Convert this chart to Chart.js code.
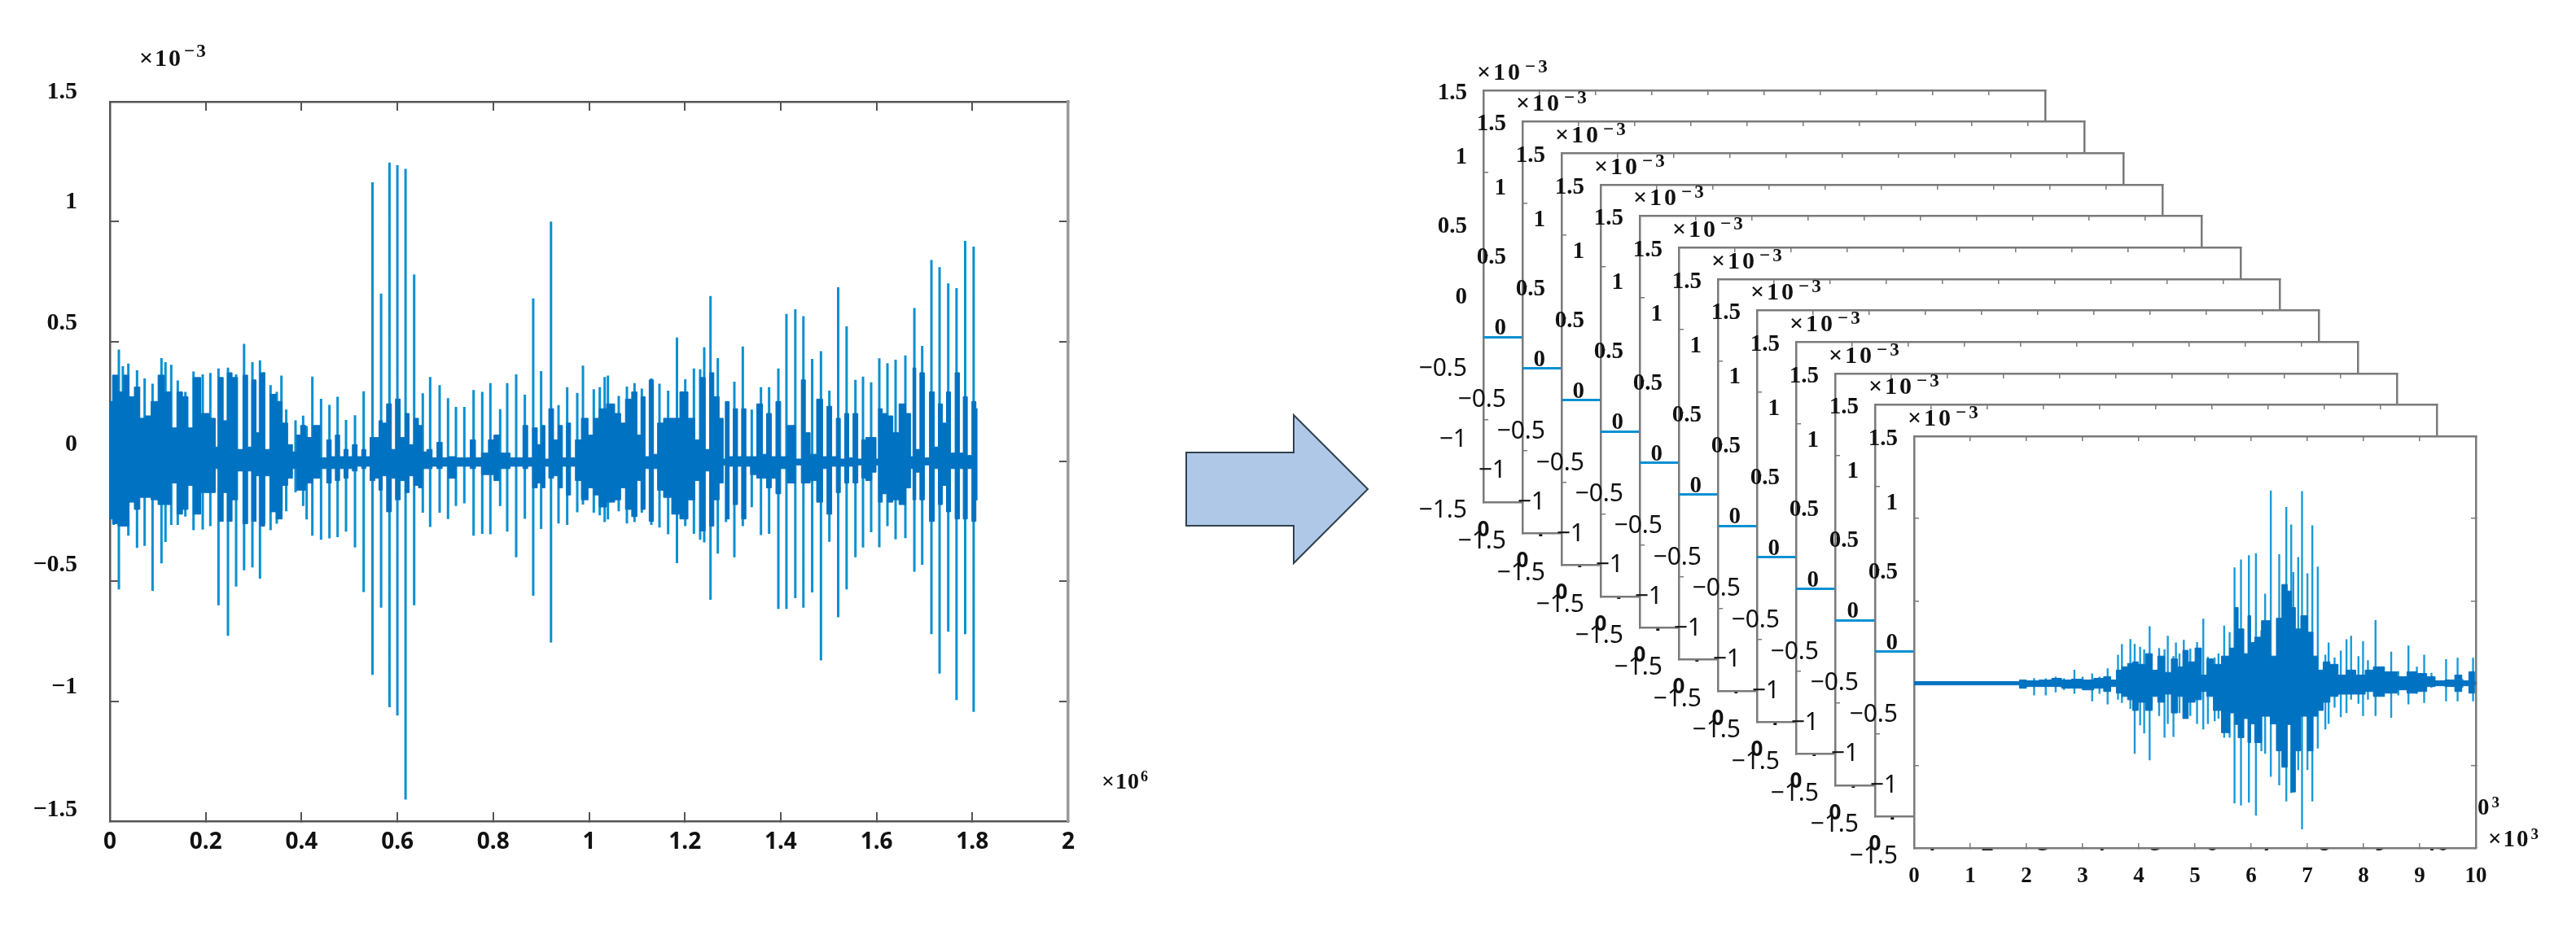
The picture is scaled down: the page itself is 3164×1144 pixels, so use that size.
<!DOCTYPE html>
<html><head><meta charset="utf-8">
<style>html,body{margin:0;padding:0;background:#fff;width:3164px;height:1144px;overflow:hidden}
canvas{position:absolute;display:block}svg{position:absolute;left:0;top:0}</style>
<script src="https://cdn.jsdelivr.net/npm/chart.js@4"></script>
</head><body>
<svg width="3164" height="1144"><polygon points="1457,556 1589,556 1589,510 1680,601 1589,692 1589,646 1457,646" fill="#b0c8e8" stroke="#30404f" stroke-width="2"/></svg>
<script>
// ---- tick labels
const leftXLabels=['0','0.2','0.4','0.6','0.8','1','1.2','1.4','1.6','1.8','2'];
const frameXLabels=['0','1','2','3','4','5','6','7','8','9','10'];
const yLabels=['−1.5','−1','−0.5','0','0.5','1','1.5'];
// ---- long signal (x in 1e6, y in 1e-3): dense core envelope
const leftCoreX=[0,.011,.023,.034,.045,.057,.068,.079,.093,.108,.119,.136,.144,.159,.167,.181,.198,.218,.222,.232,.241,.249,.261,.272,.283,.292,.3,.31,.317,.329,.34,.354,.365,.377,.385,.394,.402,.416,.43,.447,
.458,.466,.475,.484,.493,.501,.511,.521,.53,.538,.548,.558,.565,.572,.583,.592,.6,.612,.62,.629,.64,.648,.655,.668,.677,.688,.699,.714,.731,.745,.759,.767,.784,.796,.807,.818,.829,.841,.858,.866,.878,.886,.898,
.904,.912,.92,.932,.94,.949,.957,.966,.977,.991,1.005,1.014,1.028,1.045,1.062,1.07,1.082,1.096,1.104,1.113,1.121,1.13,1.139,1.147,1.164,1.181,1.198,1.215,1.226,1.237,1.248,1.255,1.266,1.277,1.283,1.288,1.297,1.305,1.315,1.322,1.333,1.341,
1.359,1.365,1.376,1.385,1.395,1.405,1.422,1.439,1.447,1.456,1.467,1.483,1.492,1.501,1.512,1.52,1.529,1.538,1.546,1.556,1.566,1.572,1.583,1.597,1.601,1.607,1.617,1.628,1.64,1.654,1.668,1.674,1.678,1.686,1.695,1.705,1.716,1.725,1.733,1.742,1.75,1.759,1.769,1.777,1.785,1.794,1.804,1.811];
const leftCoreUp=[.25,.36,.29,.36,.27,.31,.18,.19,.25,.36,.29,.14,.29,.27,.14,.35,.2,.18,.06,.35,.17,.37,.35,.05,.36,.06,.34,.12,.37,.05,.28,.25,.16,.07,.04,.11,.15,.1,.15,.015,
.09,.02,.11,.02,.05,.02,.07,.02,.05,.02,.1,.1,.17,.16,.24,.05,.26,.1,.2,.07,.18,.15,.04,.05,.015,.08,.015,.02,.015,.015,.09,.015,.035,.09,.11,.035,.035,.015,.015,.15,.015,.14,.07,
.15,.01,.22,.09,.15,.015,.16,.015,.09,.18,.11,.18,.22,.24,.2,.16,.26,.29,.11,.27,.02,.34,.03,.16,.18,.18,.29,.18,.09,.35,.05,.37,.27,.18,.01,.25,.02,.22,.02,.22,.02,.02,
.24,.03,.2,.02,.25,.02,.15,.01,.34,.12,.03,.26,.02,.23,.02,.18,.01,.2,.015,.2,.01,.09,.1,.1,.01,.22,.2,.19,.12,.24,.2,.02,.39,.05,.37,.015,.29,.06,.24,.16,.29,.035,.37,.035,.27,.025,.25,.22];
const leftCoreDown=[-.24,-.26,-.27,-.27,-.17,-.2,-.15,-.15,-.16,-.18,-.18,-.09,-.22,-.2,-.1,-.22,-.13,-.13,-.03,-.25,-.13,-.25,-.16,-.04,-.26,-.04,-.25,-.06,-.27,-.06,-.21,-.24,-.1,-.07,-.03,-.12,-.12,-.09,-.07,-.03,
-.09,-.03,-.08,-.03,-.07,-.03,-.04,-.02,-.03,-.02,-.08,-.07,-.12,-.06,-.21,-.07,-.16,-.08,-.13,-.06,-.1,-.11,-.03,-.03,-.02,-.03,-.02,-.07,-.02,-.02,-.03,-.02,-.055,-.055,-.08,-.03,-.03,-.02,-.02,-.03,-.02,-.11,-.09,
-.11,-.02,-.07,-.06,-.11,-.02,-.14,-.02,-.08,-.16,-.11,-.14,-.19,-.17,-.16,-.11,-.2,-.23,-.08,-.2,-.03,-.25,-.03,-.12,-.15,-.22,-.24,-.16,-.08,-.29,-.04,-.27,-.16,-.09,-.015,-.24,-.02,-.18,-.02,-.24,-.02,-.055,
-.07,-.07,-.11,-.07,-.135,-.03,-.09,-.015,-.09,-.09,-.08,-.17,-.03,-.22,-.02,-.13,-.02,-.09,-.02,-.09,-.015,-.07,-.08,-.045,-.015,-.17,-.135,-.17,-.16,-.18,-.11,-.03,-.16,-.045,-.16,-.015,-.25,-.03,-.18,-.1,-.21,-.03,-.24,-.03,-.24,-.03,-.25,-.16];
// ---- long signal: individual spikes
const leftSpikeX=[.008,.0187,.027,.0385,.0566,.0725,.089,.1076,.116,.128,.1416,.1575,.1745,.1937,.2096,.2266,.2464,.2634,.28,.2974,.3132,.3217,.3353,.3483,.358,.368,.3874,.4033,.4106,.4225,.4407,.4582,.4752,.4928,.5115,.5296,.548,.566,.5835,.6,.617,.635,.653,.6684,.6882,.7057,.7222,.7397,.759,.7771,.7941,.8145,.8292,.8479,.866,.8835,.9,.9206,.9363,.9544,.9754,.9873,1.0099,1.0224,1.0326,1.0394,1.062,1.079,1.0949,1.1102,1.13,1.147,1.1651,1.1835,1.2008,1.2189,1.2319,1.2404,1.2535,1.2688,1.2858,1.3033,1.3209,1.3396,1.3588,1.3758,1.3951,1.412,1.4305,1.4474,1.4657,1.484,1.5016,1.52,1.5376,1.556,1.5718,1.5888,1.6058,1.6228,1.6398,1.6602,1.679,1.6953,1.7146,1.7316,1.7497,1.767,1.785,1.8027];
const leftSpikeUp=[.346,.467,.397,.408,.38,.346,.324,.431,.414,.403,.338,.29,.375,.363,.369,.388,.391,.363,.49,.414,.422,.372,.318,.29,.358,.216,.171,.191,.148,.354,.261,.236,.27,.173,.193,.293,1.164,.7,1.246,1.235,1.22,.78,.284,.352,.318,.264,.227,.227,.298,.29,.327,.218,.327,.363,.278,.68,.377,1.0,.235,.31,.286,.4,.301,.31,.352,.358,.273,.312,.327,.304,.346,.324,.295,.517,.343,.388,.384,.476,.69,.431,.25,.333,.479,.216,.31,.31,.388,.615,.635,.606,.428,.46,.295,.726,.563,.34,.354,.33,.43,.41,.424,.442,.64,.482,.84,.81,.742,.723,.92,.896];
const leftSpikeDown=[-.265,-.534,-.27,-.31,-.361,-.352,-.54,-.425,-.336,-.265,-.265,-.23,-.287,-.284,-.27,-.6,-.727,-.522,-.454,-.442,-.489,-.26,-.287,-.26,-.208,-.208,-.129,-.186,-.242,-.31,-.327,-.321,-.316,-.293,-.359,-.545,-.89,-.61,-1.025,-1.06,-1.41,-.6,-.214,-.273,-.214,-.24,-.186,-.175,-.31,-.302,-.304,-.186,-.293,-.4,-.239,-.56,-.282,-.755,-.259,-.265,-.212,-.18,-.214,-.225,-.253,-.242,-.208,-.259,-.253,-.214,-.265,-.276,-.304,-.424,-.27,-.302,-.327,-.338,-.577,-.384,-.253,-.4,-.27,-.191,-.307,-.302,-.615,-.615,-.57,-.61,-.546,-.83,-.335,-.65,-.534,-.4,-.359,-.295,-.358,-.27,-.325,-.32,-.46,-.431,-.72,-.885,-.71,-.995,-.72,-1.044];
// ---- windowed segment (x in 1e3, y in 1e-3): core envelope
const segCoreX=[0,1.85,1.9,2.1,2.35,2.55,2.7,2.9,3.1,3.3,3.45,3.55,3.65,3.75,3.85,3.93,4.048,4.193,4.289,4.386,4.531,4.627,4.748,4.82,4.941,5.062,5.168,5.255,5.4,5.544,5.689,5.728,5.81,5.93,5.955,6.027,6.1,6.268,6.413,6.486,6.606,6.679,6.751,6.824,6.944,7.065,7.137,7.234,7.33,7.475,7.62,7.765,7.958,8.103,8.248,8.5,8.7,8.85,9.05,9.2,9.35,9.55,9.7,9.8,9.95,10];
const segCoreUp=[.01,.01,.02,.015,.02,.03,.02,.025,.02,.03,.04,.02,.08,.1,.12,.13,.115,.18,.08,.165,.066,.148,.1,.2,.13,.214,.05,.148,.115,.165,.214,.46,.33,.18,.41,.247,.28,.38,.165,.395,.6,.56,.46,.33,.41,.31,.165,.08,.13,.115,.05,.08,.05,.08,.1,.07,.04,.07,.06,.04,.015,.02,.05,.015,.07,.01];
const segCoreDown=[-.01,-.01,-.03,-.02,-.02,-.02,-.03,-.03,-.04,-.03,-.05,-.02,-.06,-.08,-.1,-.165,-.115,-.165,-.08,-.115,-.066,-.18,-.08,-.214,-.115,-.1,-.05,-.08,-.165,-.3,-.18,-.25,-.33,-.214,-.36,-.247,-.36,-.2,-.247,-.41,-.51,-.25,-.66,-.41,-.2,-.41,-.2,-.165,-.115,-.08,-.066,-.066,-.066,-.05,-.08,-.06,-.04,-.06,-.05,-.02,-.015,-.02,-.05,-.015,-.06,-.01];
// ---- windowed segment: individual spikes
const segSpikeX=[1.893,2.137,2.344,2.52,2.67,2.854,3.0,3.17,3.3,3.445,3.63,3.7,3.85,3.927,4.024,4.096,4.193,4.362,4.458,4.516,4.617,4.661,4.724,4.801,4.917,5.037,5.148,5.23,5.351,5.419,5.52,5.617,5.704,5.819,5.96,6.085,6.182,6.249,6.35,6.5,6.626,6.713,6.751,6.838,6.906,7.002,7.089,7.186,7.321,7.379,7.485,7.596,7.697,7.779,7.91,7.992,8.079,8.214,8.493,8.62,8.8,8.95,9.08,9.21,9.47,9.675,9.76,9.95];
const segSpikeUp=[.02,.031,.03,.04,.03,.082,.04,.06,.04,.091,.174,.238,.269,.239,.222,.206,.346,.214,.206,.288,.165,.247,.181,.264,.21,.25,.392,.161,.156,.181,.35,.31,.703,.752,.777,.79,.321,.544,1.17,.783,1.07,.964,.675,.766,1.166,.667,.959,.708,.173,.247,.156,.198,.267,.288,.165,.255,.14,.384,.192,.073,.229,.1,.174,.064,.146,.155,.027,.155];
const segSpikeDown=[-.03,-.073,-.073,-.055,-.04,-.064,-.04,-.11,-.064,-.128,-.1,-.119,-.155,-.428,-.255,-.305,-.468,-.198,-.33,-.247,-.326,-.181,-.181,-.214,-.198,-.247,-.28,-.247,-.231,-.214,-.33,-.33,-.73,-.742,-.725,-.804,-.412,-.428,-.568,-.62,-.717,-.667,-.626,-.527,-.886,-.527,-.717,-.396,-.28,-.247,-.148,-.206,-.181,-.099,-.124,-.198,-.099,-.198,-.21,-.073,-.128,-.064,-.119,-.027,-.11,-.11,-.027,-.11];
// ---- hidden frames of the stack: quiet leading part of each window
const stackX=[0,1.5];
const stackY=[0,0];

Chart.defaults.animation=false;
const SERIF='"Liberation Serif"', SANS='"Noto Sans"';
const INK='#111';
// vertical nudge of the pasted y labels, bottom label first
const LEFT_LABEL_NUDGE=[-14,-17,-20,-21,-22,-24,-12];
const FRAME_LABEL_NUDGE=[10,8,5,2,-1,-2,4];

function pts(xs,ys){return xs.map((x,i)=>({x,y:ys[i]}));}
function spikeLine(xs,up,down){const out=[];xs.forEach((x,i)=>{out.push({x,y:0},{x,y:up[i]},{x,y:down[i]},{x,y:0});});return out;}
function signal(cx,cu,cd,sx,su,sd,spikeCol,spikeW){return [
 {data:pts(cx,cu),borderColor:'#0072c2',borderWidth:1,backgroundColor:'#0072c2',fill:'+1',pointRadius:0,stepped:'middle',order:1},
 {data:pts(cx,cd),borderColor:'#0072c2',borderWidth:1,fill:false,pointRadius:0,stepped:'middle',order:1},
 {data:spikeLine(sx,su,sd),borderColor:spikeCol,borderWidth:spikeW,fill:false,pointRadius:0,tension:0,order:2}];}

function sized(prop,v){return s=>{s[prop]=v;};}
function tickAxis(o){return Object.assign({type:'linear',
  border:{display:true,color:o.bcol||o.col,width:o.bw},
  grid:{display:true,drawOnChartArea:false,drawTicks:true,tickLength:-o.tl,color:o.col,lineWidth:o.tw},
  afterFit:sized(o.prop,o.size||0)},o.opts);}

function makeChart(c){
  const cv=document.createElement('canvas');
  cv.width=c.w;cv.height=c.h;cv.style.left=c.left+'px';cv.style.top=c.top+'px';cv.style.width=c.w+'px';cv.style.height=c.h+'px';
  document.body.appendChild(cv);
  const tk={col:c.col,bw:c.bw,tl:c.tl,tw:c.tw};
  const hide={display:false};
  new Chart(cv,{type:'line',data:{datasets:c.datasets},plugins:[{id:'frame',
    beforeDraw(ch){const a=ch.chartArea,g=ch.ctx;g.save();g.fillStyle='#fff';g.fillRect(a.left,a.top,a.right-a.left,a.bottom-a.top);g.restore();},
    afterDraw(ch){const g=ch.ctx,a=ch.chartArea;g.save();g.fillStyle=INK;g.textBaseline='middle';g.textAlign='left';
      c.marks.forEach(m=>{const x=a.left+m.dx,y=m.fromBottom?a.bottom+m.dy:a.top+m.dy;
        g.letterSpacing=m.track+'px';g.font='bold '+m.size+'px '+SERIF;g.fillText(m.base,x,y);
        const bw=g.measureText(m.base).width;
        g.font='bold '+m.supSize+'px '+SERIF;g.fillText(m.sup,x+bw+m.gap,y+m.supDy);});
      g.restore();}}],
  options:{responsive:false,maintainAspectRatio:false,devicePixelRatio:1,animation:false,normalized:true,
    layout:{padding:{top:c.padTop,right:c.padRight,left:0,bottom:0}},
    plugins:{legend:hide,tooltip:{enabled:false},title:hide},
    scales:{
      x:tickAxis(Object.assign({},tk,{prop:'height',size:c.bottomH,opts:{position:'bottom',min:c.xMin,max:c.xMax,
        ticks:{stepSize:c.xStep,autoSkip:false,maxRotation:0,padding:c.xPad,color:INK,font:c.xFont,callback:(v,i)=>c.xLabels[i]}}})),
      xT:tickAxis(Object.assign({},tk,{prop:'height',opts:{position:'top',min:c.xMin,max:c.xMax,ticks:{display:false,stepSize:c.xStep}}})),
      y:tickAxis(Object.assign({},tk,{prop:'width',opts:{position:'left',weight:0,min:c.yMin,max:c.yMax,ticks:{display:false,stepSize:.5}}})),
      yR:tickAxis(Object.assign({},tk,{prop:'width',bcol:c.rightCol,bw:c.rightW||c.bw,opts:{position:'right',min:c.yMin,max:c.yMax,ticks:{display:false,stepSize:.5}}})),
      yL:{type:'linear',position:'left',weight:1,min:-1.5,max:1.5,afterFit:sized('width',c.leftW),
        afterUpdate(s){if(s.__nudged)return;s.__nudged=true;const base=s.getPixelForTick;s.getPixelForTick=function(i){return base.call(this,i)+c.yNudge[i];};},
        border:{display:false},grid:{display:false,drawTicks:false},
        ticks:{stepSize:.5,autoSkip:false,padding:c.yPad,color:INK,font:c.yFont,callback:(v,i)=>yLabels[i]}}
    }}});
}

// long signal panel
makeChart({left:0,top:0,w:1430,h:1070,padTop:125,padRight:118,bottomH:61,leftW:135,
  xMin:0,xMax:2,xStep:.2,xLabels:leftXLabels,yMin:-1.5,yMax:1.5,xPad:20,yPad:40,yNudge:LEFT_LABEL_NUDGE,
  col:'#555',bw:2.5,tl:11,tw:2,rightCol:'#9a9a9a',rightW:3.5,
  xFont:{family:SANS,size:28,weight:'bold'},yFont:{family:SERIF,size:30,weight:'bold'},
  marks:[{base:'×10',sup:'−3',dx:36,dy:-52,size:30,supSize:23,gap:2,supDy:-9,track:2},
         {base:'×10',sup:'6',dx:1218,dy:-47,fromBottom:true,size:28,supSize:18,gap:1,supDy:-7,track:1}],
  datasets:signal(leftCoreX,leftCoreUp,leftCoreDown,leftSpikeX,leftSpikeUp,leftSpikeDown,'#0a90d2',3)});

// stack of windowed frames, back to front
const FRAMES=12;
for(let i=0;i<FRAMES;i++){
  const L=1822+48.05*i,T=110.7+38.66*i,front=i===FRAMES-1;
  makeChart({left:Math.round(L)-110,top:Math.round(T)-50,w:110+690+120,h:50+506+60,padTop:50,padRight:120,bottomH:60,leftW:110,
    xMin:0,xMax:10,xStep:1,xLabels:frameXLabels,yMin:-1,yMax:1.5,xPad:25,yPad:20,yNudge:FRAME_LABEL_NUDGE,
    col:'#7a7a7a',bw:2.5,tl:6,tw:1.5,
    xFont:front?{family:SERIF,size:27,weight:'bold'}:{family:SANS,size:26,weight:'bold'},
    yFont:ctx=>(ctx.tick&&ctx.tick.value<0)?{family:SANS,size:30}:{family:SERIF,size:29,weight:'bold'},
    marks:[{base:'×10',sup:'−3',dx:-8,dy:-21,size:30,supSize:23,gap:3,supDy:-7,track:3},
           {base:'×10',sup:'3',dx:705,dy:-9,fromBottom:true,size:29,supSize:19,gap:1,supDy:-7,track:2}],
    datasets:front?signal(segCoreX,segCoreUp,segCoreDown,segSpikeX,segSpikeUp,segSpikeDown,'#1c9ad8',2.4)
      :[{data:pts(stackX,stackY),borderColor:'#0a90d2',borderWidth:3,fill:false,pointRadius:0,tension:0}]});
}
</script></body></html>
